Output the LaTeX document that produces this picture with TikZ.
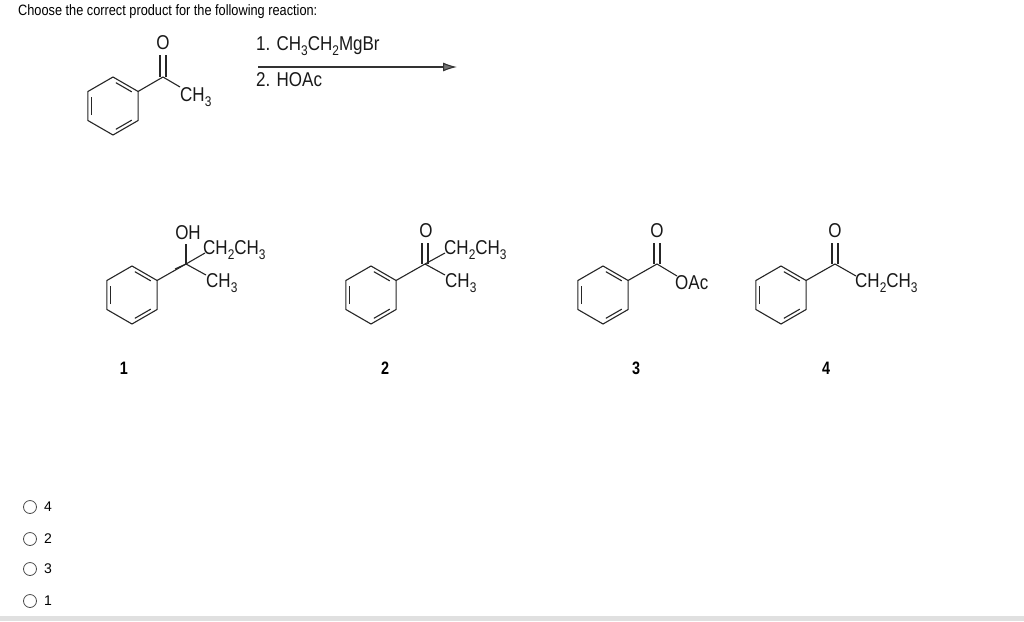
\documentclass[tikz,border=0pt]{standalone}
\usepackage{fontspec}
\setmainfont{Liberation Sans}
\usetikzlibrary{arrows.meta,calc}
\newcommand\chsub[1]{\raisebox{-0.4ex}{\fontsize{14}{14}\selectfont #1}}
\newcommand\benzring[2]{%
  \draw[bond] ($(#1,#2)+(-90:29)$) -- ($(#1,#2)+(-30:29)$) -- ($(#1,#2)+(30:29)$) -- ($(#1,#2)+(90:29)$) -- ($(#1,#2)+(150:29)$) -- ($(#1,#2)+(210:29)$) -- cycle;
  \draw[bond] ($(#1,#2)+(-83:23.5)$) -- ($(#1,#2)+(-37:23.5)$);
  \draw[bond] ($(#1,#2)+(37:23.5)$) -- ($(#1,#2)+(83:23.5)$);
  \draw[bond] ($(#1,#2)+(157:23.5)$) -- ($(#1,#2)+(203:23.5)$);
}
\tikzset{bond/.style={line width=1.1pt,black!85},
  chem/.style={font=\fontsize{20}{20}\selectfont\addfontfeature{FakeStretch=0.85},inner sep=0pt,text=black!90},
  num/.style={font=\fontsize{18}{18}\selectfont\bfseries\addfontfeature{FakeStretch=0.8},inner sep=0pt},
  opt/.style={font=\fontsize{14}{14}\selectfont,inner sep=0pt,anchor=west},
  radio/.style={circle,draw=black!70,line width=0.8pt,minimum size=13pt,inner sep=0pt}}
\begin{document}
\begin{tikzpicture}[x=1pt,y=-1pt]
\useasboundingbox (0,0) rectangle (1024,621);
\fill[white] (0,0) rectangle (1024,621);
\node[anchor=west,inner sep=0pt,font=\fontsize{15}{15}\selectfont\addfontfeature{FakeStretch=0.85}] (title) at (18,12) {Choose the correct product for the following reaction:};
% reactant
\benzring{113}{106}
\draw[bond] (138,91.5) -- (163,77) coordinate (c0) -- (180,87);
\draw[bond] (160,77) -- (160,55);
\draw[bond] (166,77) -- (166,55);
\node[chem] (o0) at (163,43) {O};
\node[chem,anchor=west] (ch30) at (180,97) {CH\chsub{3}};
% arrow
\coordinate (a1) at (258,67); \coordinate (a2) at (457,67);
\draw[line width=1.1pt,black!80,-{Latex[length=14pt,width=9pt,fill=black!55]}] (a1) -- (a2);
\node[chem,anchor=west] (r1) at (256,46) {1. CH\chsub{3}CH\chsub{2}MgBr};
\node[chem,anchor=west] (r2) at (256,80) {2. HOAc};
% product 1
\benzring{132}{295}
\draw[bond] (157,280.5) -- (186,264) coordinate (c1) -- (205,253);
\draw[bond] (c1) -- (206,275);
\draw[bond] (c1) -- (186,244);
\draw[bond] (175,269) -- (c1);
\node[chem] (oh1) at (188,233) {OH};
\node[chem,anchor=west] (e1) at (203,250) {CH\chsub{2}CH\chsub{3}};
\node[chem,anchor=west] (m1) at (206,283) {CH\chsub{3}};
% product 2
\benzring{371}{295}
\draw[bond] (396,280.5) -- (425,264) coordinate (c2) -- (445,253);
\draw[bond] (c2) -- (445,275);
\draw[bond] (422,264) -- (422,243);
\draw[bond] (428,264) -- (428,243);
\node[chem] (o2) at (426,231) {O};
\node[chem,anchor=west] (e2) at (444,250) {CH\chsub{2}CH\chsub{3}};
\node[chem,anchor=west] (m2) at (445,283) {CH\chsub{3}};
% product 3
\benzring{603}{295}
\draw[bond] (628,280.5) -- (657,264) coordinate (c3) -- (677,276);
\draw[bond] (654,264) -- (654,243);
\draw[bond] (660,264) -- (660,243);
\node[chem] (o3) at (657,231) {O};
\node[chem,anchor=west] (oac) at (675,283) {OAc};
% product 4
\benzring{781}{295}
\draw[bond] (806,280.5) -- (835,264) coordinate (c4) -- (856,276);
\draw[bond] (832,264) -- (832,243);
\draw[bond] (838,264) -- (838,243);
\node[chem] (o4) at (835,231) {O};
\node[chem,anchor=west] (e4) at (855,283) {CH\chsub{2}CH\chsub{3}};
% numbers
\node[num] (n1) at (124,368) {1};
\node[num] (n2) at (385,368) {2};
\node[num] (n3) at (636,368) {3};
\node[num] (n4) at (826,368) {4};
% options
\foreach \y/\t in {507/4,539/2,569/3,601/1}{
  \node[radio] (rb\t) at (30,\y) {};
  \node[opt] (ot\t) at (44,\y) {\t};
}
\fill[black!12] (0,616) rectangle (1024,621);
\end{tikzpicture}
\end{document}
